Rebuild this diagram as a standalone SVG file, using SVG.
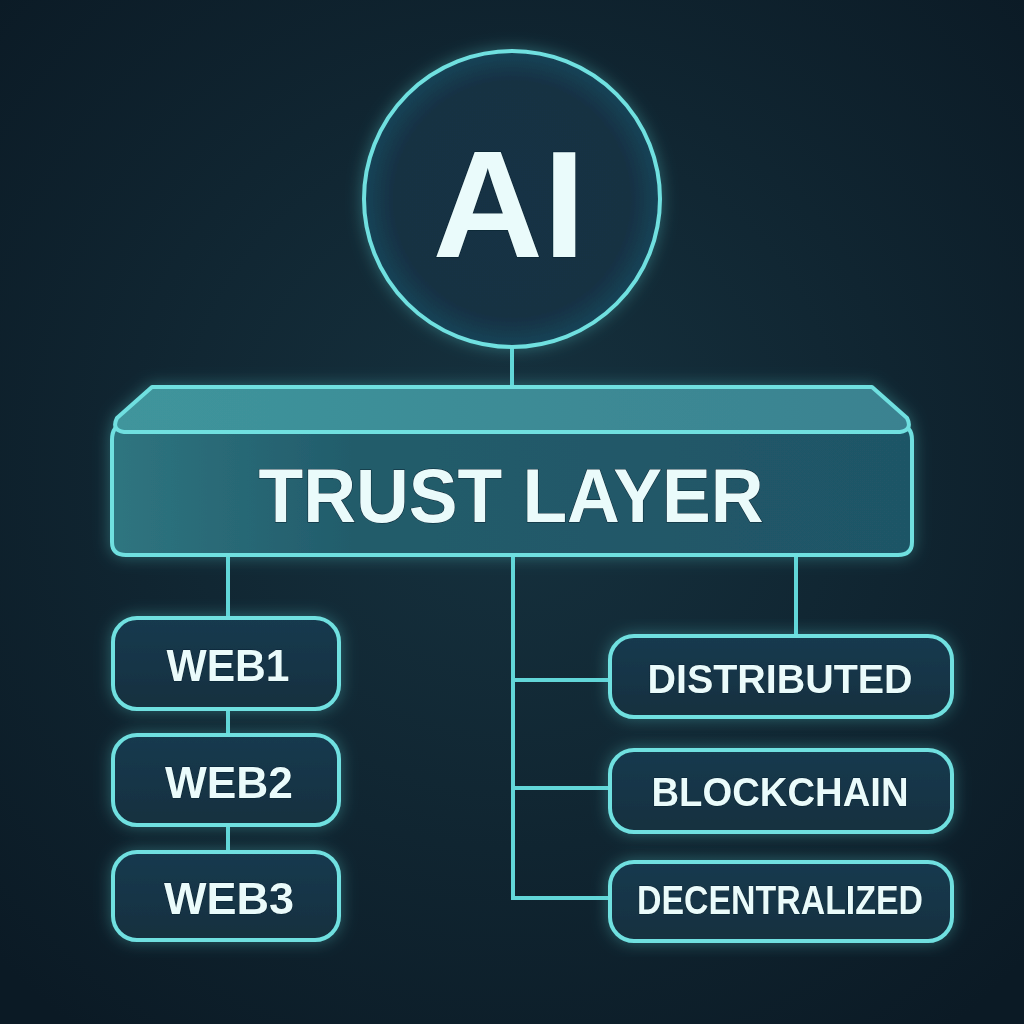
<svg xmlns="http://www.w3.org/2000/svg" width="1024" height="1024" viewBox="0 0 1024 1024">
<defs>
<radialGradient id="bg" cx="50%" cy="45%" r="70%">
<stop offset="0" stop-color="#16323f"/>
<stop offset="1" stop-color="#0b1a25"/>
</radialGradient>
<radialGradient id="circ" cx="50%" cy="50%" r="50%">
<stop offset="0" stop-color="#143244"/>
<stop offset="0.8" stop-color="#123043"/>
<stop offset="1" stop-color="#1a4558"/>
</radialGradient>
<linearGradient id="top" x1="0" y1="0" x2="1" y2="0">
<stop offset="0" stop-color="#3f959c"/>
<stop offset="1" stop-color="#3a8290"/>
</linearGradient>
<linearGradient id="front" x1="0" y1="0" x2="1" y2="0">
<stop offset="0" stop-color="#2f7580"/>
<stop offset="0.3" stop-color="#225c6b"/>
<stop offset="1" stop-color="#1f5566"/>
</linearGradient>
<linearGradient id="pill" x1="0" y1="0" x2="0" y2="1">
<stop offset="0" stop-color="#173a4f"/>
<stop offset="1" stop-color="#12303f"/>
</linearGradient>
<filter id="glow" x="-20%" y="-20%" width="140%" height="140%">
<feGaussianBlur in="SourceAlpha" stdDeviation="8" result="b"/>
<feFlood flood-color="#5fe0e0" flood-opacity="0.35"/>
<feComposite in2="b" operator="in" result="g"/>
<feMerge><feMergeNode in="g"/><feMergeNode in="SourceGraphic"/></feMerge>
</filter>
</defs>
<style>
.ln{fill:none;stroke:#62d6d8;stroke-width:4;}
.node{stroke:#6fe0e0;stroke-width:4;}
.t{font-family:"Liberation Sans",Arial,sans-serif;font-weight:bold;fill:#eafbfb;text-anchor:middle;stroke:#0d2230;stroke-width:1;paint-order:stroke;}
</style>
<rect width="1024" height="1024" fill="url(#bg)"/>
<g id="connectors" class="ln">
<line x1="512" y1="347" x2="512" y2="388"/>
<line x1="228" y1="556" x2="228" y2="618"/>
<line x1="228" y1="709" x2="228" y2="735"/>
<line x1="228" y1="825" x2="228" y2="852"/>
<polyline points="513,556 513,898 610,898"/>
<line x1="513" y1="680" x2="610" y2="680"/>
<line x1="513" y1="788" x2="610" y2="788"/>
<line x1="796" y1="556" x2="796" y2="636"/>
</g>
<g id="ai" filter="url(#glow)">
<circle cx="512" cy="199" r="148" fill="url(#circ)" class="node"/>
<text x="509" y="257" class="t" font-size="153">AI</text>
</g>
<g id="trust-layer" filter="url(#glow)">
<path d="M124,425 Q112,425 112,440 L112,542 Q112,555 126,555 L898,555 Q912,555 912,542 L912,440 Q912,425 898,425 Z" fill="url(#front)" class="node"/>
<path d="M152,387 L872,387 L907,418 Q913,430 900,432 L124,432 Q111,430 117,418 Z" fill="url(#top)" class="node" stroke-linejoin="round"/>
<text x="511" y="522" class="t" font-size="76" textLength="505" lengthAdjust="spacingAndGlyphs">TRUST LAYER</text>
</g>
<g id="web1" filter="url(#glow)">
<rect x="113" y="618" width="226" height="91" rx="24" fill="url(#pill)" class="node"/>
<text x="228" y="681" class="t" font-size="45" textLength="123" lengthAdjust="spacingAndGlyphs">WEB1</text>
</g>
<g id="web2" filter="url(#glow)">
<rect x="113" y="735" width="226" height="90" rx="24" fill="url(#pill)" class="node"/>
<text x="229" y="798" class="t" font-size="45" textLength="128" lengthAdjust="spacingAndGlyphs">WEB2</text>
</g>
<g id="web3" filter="url(#glow)">
<rect x="113" y="852" width="226" height="88" rx="24" fill="url(#pill)" class="node"/>
<text x="229" y="914" class="t" font-size="45" textLength="130" lengthAdjust="spacingAndGlyphs">WEB3</text>
</g>
<g id="distributed" filter="url(#glow)">
<rect x="610" y="636" width="342" height="81" rx="24" fill="url(#pill)" class="node"/>
<text x="780" y="693" class="t" font-size="41" textLength="265" lengthAdjust="spacingAndGlyphs">DISTRIBUTED</text>
</g>
<g id="blockchain" filter="url(#glow)">
<rect x="610" y="750" width="342" height="82" rx="24" fill="url(#pill)" class="node"/>
<text x="780" y="806" class="t" font-size="41" textLength="257" lengthAdjust="spacingAndGlyphs">BLOCKCHAIN</text>
</g>
<g id="decentralized" filter="url(#glow)">
<rect x="610" y="862" width="342" height="79" rx="24" fill="url(#pill)" class="node"/>
<text x="780" y="914" class="t" font-size="40" textLength="286" lengthAdjust="spacingAndGlyphs">DECENTRALIZED</text>
</g>
</svg>
